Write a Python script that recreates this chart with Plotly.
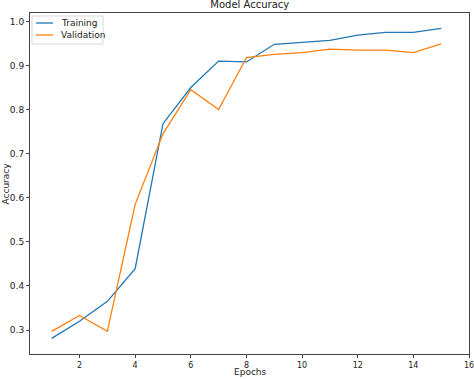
import plotly.graph_objects as go

epochs = list(range(1, 16))
training = [0.281, 0.320, 0.365, 0.439, 0.768, 0.850, 0.910, 0.908, 0.948, 0.953, 0.957, 0.969, 0.975, 0.975, 0.984]
validation = [0.297, 0.333, 0.297, 0.585, 0.745, 0.845, 0.800, 0.918, 0.925, 0.929, 0.937, 0.935, 0.935, 0.929, 0.949]
series_names = ["Training", "Validation"]
series_colors = ["#1f77b4", "#ff7f0e"]
x_ticks = [2, 4, 6, 8, 10, 12, 14, 16]
y_ticks = [0.3, 0.4, 0.5, 0.6, 0.7, 0.8, 0.9, 1.0]

W, H = 474, 379
L, R, T, B = 30, 5, 13, 25
PW, PH = W - L - R, H - T - B


def px_x(p):
    return (p - L) / PW


def px_y(p):
    return (H - B - p) / PH


fig = go.Figure()
for name, vals, col in zip(series_names, [training, validation], series_colors):
    fig.add_trace(go.Scatter(x=epochs, y=vals, mode="lines", name=name,
                             line=dict(color=col, width=1.3)))

shapes = [dict(type="rect", xref="paper", yref="paper",
               x0=px_x(32), x1=px_x(103), y0=px_y(44), y1=px_y(16),
               fillcolor="rgba(255,255,255,0.85)", line=dict(color="#d8d8d8", width=1))]
annotations = []
for i, (name, col) in enumerate(zip(series_names, series_colors)):
    yy = 23 + 12 * i
    shapes.append(dict(type="line", xref="paper", yref="paper",
                       x0=px_x(36), x1=px_x(53), y0=px_y(yy), y1=px_y(yy),
                       line=dict(color=col, width=1.3)))
    annotations.append(dict(text=name, xref="paper", yref="paper", x=px_x(59), y=px_y(yy),
                            xanchor="left", yanchor="middle", showarrow=False,
                            font=dict(size=9)))

annotations += [
    dict(text="Epochs", xref="paper", yref="paper", x=px_x(250), y=px_y(379),
         xanchor="center", yanchor="bottom", showarrow=False, font=dict(size=9)),
    dict(text="Accuracy", xref="paper", yref="paper", x=px_x(5),
         y=0.5, xanchor="center", yanchor="middle", textangle=-90,
         showarrow=False, font=dict(size=9)),
]

fig.update_layout(
    width=W, height=H,
    margin=dict(l=L, r=R, t=T, b=B, autoexpand=False),
    paper_bgcolor="white", plot_bgcolor="white",
    font=dict(family="DejaVu Sans", size=9, color="#222"),
    title=dict(text="Model Accuracy", x=0.527, xanchor="center", y=0.997, yanchor="top",
               font=dict(family="DejaVu Sans", size=10, color="#222")),
    showlegend=False,
    shapes=shapes,
    annotations=annotations,
)
fig.update_xaxes(range=[0.22, 16.0], tickvals=x_ticks, ticks="outside", ticklen=3,
                 tickwidth=1, tickcolor="#444", showgrid=False, zeroline=False,
                 showline=True, linecolor="#444", linewidth=1, mirror=True, automargin=False,
                 ticklabeloverflow="allow", ticklabelstandoff=0, tickfont=dict(size=8))
fig.update_yaxes(range=[0.2456, 1.019], tickvals=y_ticks, tickformat=".1f", ticks="outside",
                 ticklen=3, tickwidth=1, tickcolor="#444", showgrid=False, zeroline=False,
                 showline=True, linecolor="#444", linewidth=1, mirror=True, automargin=False,
                 ticklabeloverflow="allow")

fig.write_html("out.html", config={"displayModeBar": False},
               post_script="document.body.style.margin='0';document.body.style.overflow='hidden';")
